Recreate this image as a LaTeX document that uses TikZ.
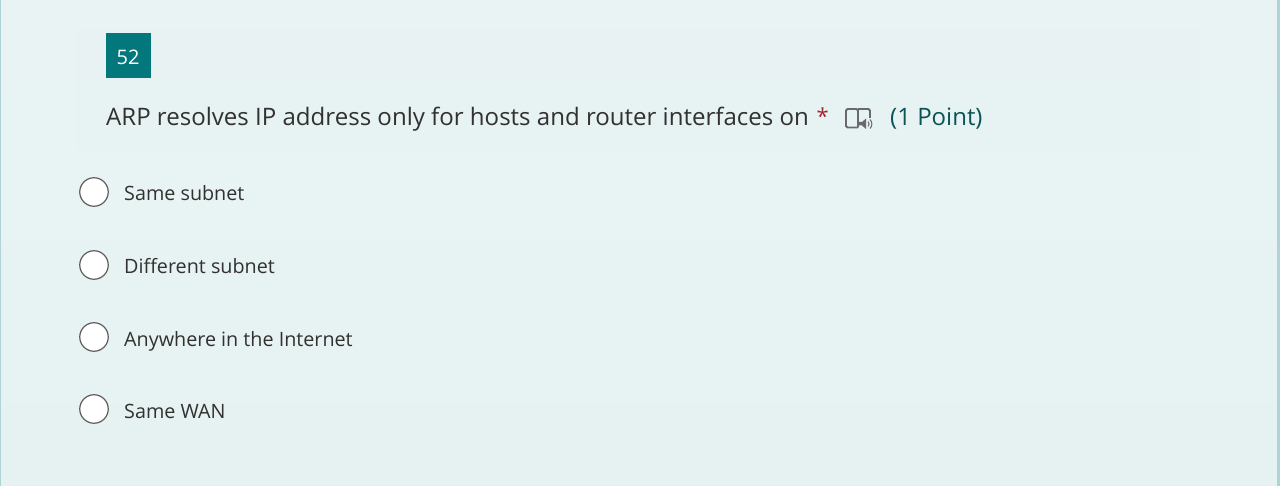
\documentclass[tikz,border=0pt]{standalone}
\usepackage{fontspec}
\setmainfont{Open Sans}
\definecolor{bgmain}{HTML}{E6F2F2}
\definecolor{bgpanel}{HTML}{E8F1F3}
\definecolor{bgedge}{HTML}{E9F3F4}
\definecolor{edgeline}{HTML}{B0D4D6}
\definecolor{badge}{HTML}{03787C}
\definecolor{ink}{HTML}{323130}
\definecolor{pointc}{HTML}{0B5356}
\definecolor{star}{HTML}{A4262C}
\definecolor{ring}{HTML}{605E5C}
\definecolor{icon}{HTML}{6A6A6A}
\tikzset{
 question/.style={anchor=base west,inner sep=0pt,text=ink,font=\fontsize{24.05}{28}\selectfont},
 choice/.style={anchor=base west,inner sep=0pt,text=ink,font=\fontsize{19.75}{24}\selectfont},
 radio/.style={circle,draw=ring,fill=white,line width=1.2pt,minimum size=28.5pt,inner sep=0pt},
 iconline/.style={draw=icon,line width=1.9pt,rounded corners=1.5pt}
}
\begin{document}
\begin{tikzpicture}[x=1pt,y=-1pt]
\useasboundingbox (0,0) rectangle (1280,486);
\fill[bgmain] (0,0) rectangle (1280,486);
\shade[top color=bgedge,bottom color=bgmain] (0,0) rectangle (1280,486);
\shade[top color=bgpanel!70!bgedge,bottom color=bgpanel!25!bgmain] (76,30) rectangle (1200,150);
\fill[edgeline] (0,0) rectangle (1.3,486);
\fill[edgeline] (1277,0) rectangle (1280,486);
\node[fill=badge,text=white,minimum size=45pt,inner sep=0pt] (box) at (128.5,55.5) {};
\node[anchor=base,inner sep=0pt,text=white,font=\fontsize{20}{24}\selectfont] (num) at (128,65) {52};
\node[question] (q) at (106,126) {ARP resolves IP address only for hosts and router interfaces on};
\node[anchor=base west,inner sep=0pt,text=star,font=\fontsize{22}{28}\selectfont] (req) at (816.5,125) {*};
\draw[iconline] (858,127.5) -- (846,127.5) -- (846,109) -- (858,109) -- (858,127.5);
\draw[iconline] (858,109) -- (870,109) -- (870,118);
\fill[icon] (859,122) -- (862,122) -- (866,118.5) -- (866,129) -- (862,125.5) -- (859,125.5) -- cycle;
\draw[icon,line width=1pt] (868,121.5) .. controls (869.5,123) and (869.5,125) .. (868,126.5);
\draw[icon,line width=1pt] (870,119.5) .. controls (872.5,122) and (872.5,126) .. (870,128.5);
\node[anchor=base west,inner sep=0pt,text=pointc,font=\fontsize{24}{28}\selectfont] (pts) at (890,126) {(1 Point)};
\node[radio] (r1) at (94,192) {};
\node[radio] (r2) at (94,265) {};
\node[radio] (r3) at (94,337) {};
\node[radio] (r4) at (94,409) {};
\node[choice] (c1) at (124,201) {Same subnet};
\node[choice] (c2) at (124,274) {Different subnet};
\node[choice] (c3) at (124,346) {Anywhere in the Internet};
\node[choice] (c4) at (124,418) {Same WAN};
\end{tikzpicture}
\end{document}
